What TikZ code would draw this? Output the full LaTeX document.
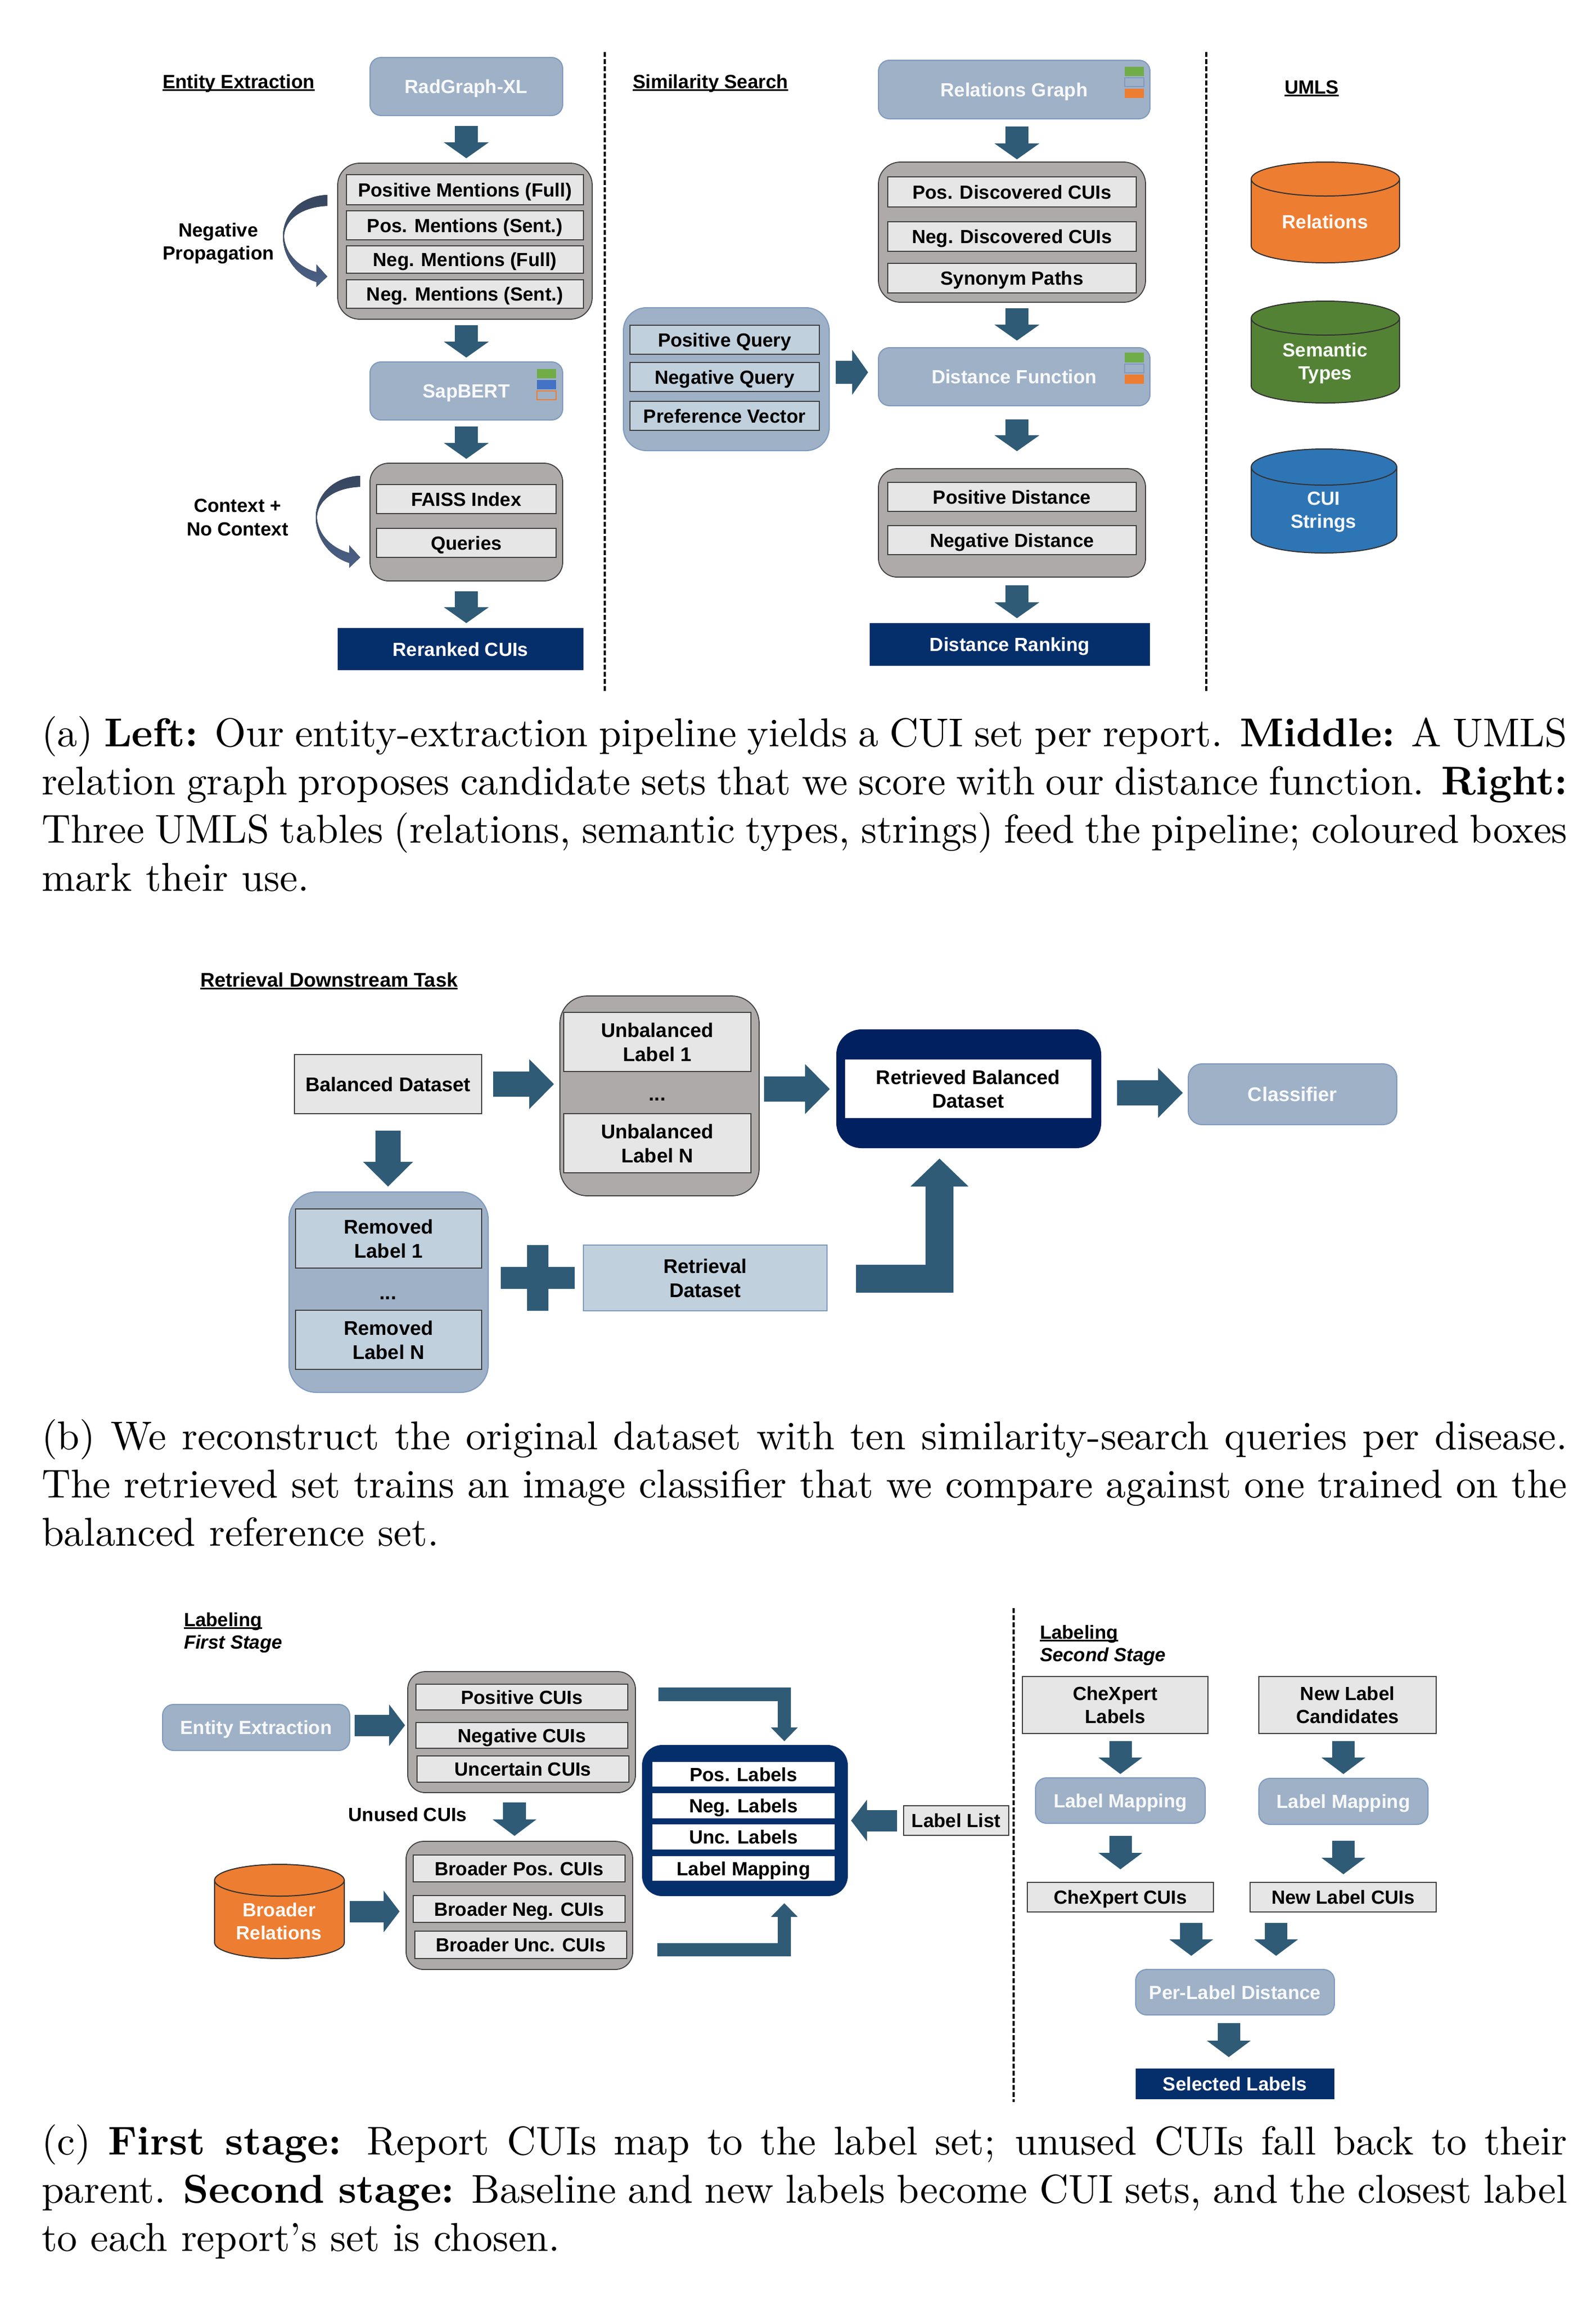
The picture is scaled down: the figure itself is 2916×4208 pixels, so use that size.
\documentclass[tikz,border=0pt]{standalone}
\usepackage{fontspec}
\usetikzlibrary{arrows.meta}
\newfontfamily\dia{Liberation Sans}
\definecolor{arrowc}{HTML}{2F5B77}
\definecolor{bluebox}{HTML}{9FB1C7}
\definecolor{blueedge}{HTML}{7F9ABE}
\definecolor{lightblue}{HTML}{C1D0DD}
\definecolor{graybox}{HTML}{AEAAAA}
\definecolor{rowfill}{HTML}{E7E6E6}
\definecolor{edgec}{HTML}{404040}
\definecolor{navy}{HTML}{052F6B}
\definecolor{navyb}{HTML}{00205F}
\definecolor{orangec}{HTML}{ED7D31}
\definecolor{greenc}{HTML}{548235}
\definecolor{bluec}{HTML}{2E75B6}
\definecolor{sqgreen}{HTML}{70AD47}
\definecolor{sqblue}{HTML}{4472C4}
\definecolor{swtop}{HTML}{37465E}
\definecolor{swbot}{HTML}{4A6085}
\tikzset{
  tx/.style={font=\dia\bfseries\fontsize{9.9}{11.95}\selectfont,inner sep=0pt,outer sep=0pt,align=center,text=black},
  txb/.style={font=\dia\bfseries\fontsize{10.3}{12.35}\selectfont},
  ttl/.style={tx,anchor=base west,font=\dia\bfseries\fontsize{9.95}{12}\selectfont},
  bluenode/.style={tx,rectangle,rounded corners=0.2cm,fill=bluebox,draw=blueedge,line width=0.02cm,text=white!92!bluebox},
  grp/.style={rectangle,rounded corners=0.4cm,fill=graybox,draw=edgec,line width=0.018cm,inner sep=0pt,outer sep=0pt},
  grpblue/.style={rectangle,rounded corners=0.42cm,fill=bluebox,draw=blueedge,line width=0.02cm,inner sep=0pt,outer sep=0pt},
  grpnavy/.style={rectangle,rounded corners=0.36cm,fill=navy,draw=navy,line width=0.02cm,inner sep=0pt,outer sep=0pt},
  row/.style={tx,rectangle,fill=rowfill,draw=edgec,line width=0.018cm},
  rowblue/.style={tx,rectangle,fill=lightblue,draw=edgec,line width=0.018cm},
  rowwhite/.style={tx,rectangle,fill=white,draw=none},
  solidnavy/.style={tx,rectangle,fill=navy,text=white},
  sqnode/.style={rectangle,inner sep=0pt,outer sep=0pt},
  sepline/.style={draw=black,line width=0.035cm,dash pattern=on 0.09cm off 0.04cm},
  barA/.style={draw=arrowc,line width=0.42cm,-{Triangle[length=0.29cm,width=0.82cm,line width=0pt]}},
  barB/.style={draw=arrowc,line width=0.46cm,-{Triangle[length=0.45cm,width=0.91cm,line width=0pt]}},
  barC/.style={draw=arrowc,line width=0.39cm,-{Triangle[length=0.29cm,width=0.76cm,line width=0pt]}},
  barD/.style={draw=arrowc,line width=0.41cm,-{Triangle[length=0.30cm,width=0.80cm,line width=0pt]}},
  barE/.style={draw=arrowc,line width=0.51cm,-{Triangle[length=0.51cm,width=1.06cm,line width=0pt]}},
  barF/.style={draw=arrowc,line width=0.245cm,-{Triangle[length=0.25cm,width=0.49cm,line width=0pt]}},
  capt/.style={anchor=north west,inner sep=0pt,outer sep=0pt,scale=2.09,text width=13.33cm,align=justify}
}
\newcommand\ul[1]{\setbox0=\hbox{#1}\rlap{\rule[-0.13em]{\wd0}{0.07em}}\box0}
% style, name, x1, y1, x2, y2, text
\newcommand\nbox[7]{\node[#1,minimum width={(#5-#3)*0.01cm},minimum height={(#6-#4)*0.01cm}] (#2) at ({(#3+#5)/2},{(#4+#6)/2}) {\vphantom{g}\rule{0pt}{0.95em}#7\vphantom{g}};}
\newcommand\sq[7]{\node[sqnode,#1,minimum width={(#5-#3)*0.01cm},minimum height={(#6-#4)*0.01cm}] (#2) at ({(#3+#5)/2},{(#4+#6)/2}) {};}
% style, name, start, end
\newcommand\blk[4]{\coordinate (#2s) at (#3); \coordinate (#2e) at (#4); \draw[#1] (#2s) -- (#2e);}
% name, x1, y1, x2, y2, ry, colour
\newcommand\cyl[7]{%
  \pgfmathsetmacro\cx{(#2+#4)/2}\pgfmathsetmacro\rx{(#4-#2)/2}%
  \pgfmathsetmacro\kx{0.5523*\rx}\pgfmathsetmacro\ky{0.5523*#6}%
  \pgfmathsetmacro\ta{#3+#6}\pgfmathsetmacro\ba{#5-#6}%
  \draw[fill=#7,draw=black!80,line width=0.02cm] (#2,\ta) -- (#2,\ba) .. controls (#2,\ba+\ky) and (\cx-\kx,#5) .. (\cx,#5) .. controls (\cx+\kx,#5) and (#4,\ba+\ky) .. (#4,\ba) -- (#4,\ta) -- cycle;
  \draw[fill=#7,draw=black!80,line width=0.02cm] (\cx,\ta) ellipse [x radius=\rx*0.01cm,y radius=#6*0.01cm];
}
\begin{document}
\begin{tikzpicture}[x=0.01cm,y=-0.01cm]
\useasboundingbox (0,0) rectangle (2916,4208);
\fill[white] (0,0) rectangle (2916,4208);

%% ---------- (a) left
\node[ttl] (ttlA) at (297,161) {\ul{Entity Extraction}};
\nbox{bluenode}{rad}{676}{105}{1028}{211}{RadGraph-XL}
\blk{barA}{a1}{852,230}{852,289}
\nbox{grp}{gA}{617}{298}{1082}{583}{}
\nbox{row}{rA1}{633}{319}{1066}{374}{Positive Mentions (Full)}
\nbox{row}{rA2}{633}{385}{1066}{438}{Pos. Mentions (Sent.)}
\nbox{row}{rA3}{633}{449}{1066}{499}{Neg. Mentions (Full)}
\nbox{row}{rA4}{633}{511}{1066}{563}{Neg. Mentions (Sent.)}
\blk{barA}{a2}{852,594}{852,653}
\nbox{bluenode}{sap}{676}{661}{1028}{767}{SapBERT}
\sq{fill=sqgreen}{sapG}{981}{674}{1016}{691}{}
\sq{fill=sqblue}{sapB}{981}{694}{1016}{711}{}
\sq{draw=orangec,line width=0.015cm}{sapO}{981}{714}{1016}{730}{}
\blk{barA}{a3}{852,779}{852,838}
\nbox{grp,rounded corners=0.34cm}{gF}{676}{846}{1028}{1061}{}
\nbox{row}{rF1}{688}{885}{1016}{938}{FAISS Index}
\nbox{row}{rF2}{688}{965}{1016}{1018}{Queries}
\blk{barA}{a4}{852,1080}{852,1138}
\nbox{solidnavy}{rer}{617}{1147}{1066}{1224}{Reranked CUIs}
\node[tx] (negp) at (399,445) {Negative\\Propagation};
\node[tx] (ctx) at (434,945) {Context +\\No Context};
\foreach \dx/\dy in {0/0,60/513}{
\begin{scope}[shift={(\dx,\dy)}]
\fill[top color=swtop,bottom color=swbot] (598,356) .. controls (548,358) and (517,392) .. (517,432) .. controls (517,468) and (540,503) .. (578,515) -- (578,524) -- (598,505) -- (578,483) -- (578,497) .. controls (548,489) and (521,465) .. (519,432) .. controls (520,400) and (552,378) .. (598,376) -- cycle;
\end{scope}}
\coordinate (d1s) at (1105,95); \coordinate (d1e) at (1105,1263);
\draw[sepline] (d1s) -- (d1e);

%% ---------- (a) middle
\node[ttl] (ttlS) at (1156,161) {\ul{Similarity Search}};
\nbox{bluenode}{relg}{1605}{110}{2101}{217}{Relations Graph}
\sq{fill=sqgreen}{relG}{2055}{122}{2090}{139}{}
\sq{draw=blueedge,line width=0.015cm,fill=bluebox}{relB}{2055}{142}{2090}{158}{}
\sq{fill=orangec}{relO}{2055}{162}{2090}{179}{}
\blk{barA}{m1}{1858,231}{1858,291}
\nbox{grp}{gD}{1605}{296}{2093}{552}{}
\nbox{row}{rD1}{1622}{323}{2076}{378}{Pos. Discovered CUIs}
\nbox{row}{rD2}{1622}{405}{2076}{459}{Neg. Discovered CUIs}
\nbox{row}{rD3}{1622}{481}{2076}{535}{Synonym Paths}
\blk{barA}{m2}{1858,563}{1858,622}
\nbox{bluenode}{dist}{1605}{635}{2101}{741}{Distance Function}
\sq{fill=sqgreen}{distG}{2055}{644}{2090}{662}{}
\sq{draw=blueedge,line width=0.015cm,fill=bluebox}{distB}{2055}{665}{2090}{681}{}
\sq{fill=orangec}{distO}{2055}{684}{2090}{701}{}
\blk{barA}{m3}{1858,766}{1858,824}
\nbox{grp,rounded corners=0.34cm}{gP}{1605}{856}{2093}{1054}{}
\nbox{row}{rP1}{1622}{881}{2076}{934}{Positive Distance}
\nbox{row}{rP2}{1622}{960}{2076}{1013}{Negative Distance}
\blk{barA}{m4}{1858,1069}{1858,1129}
\nbox{solidnavy}{rank}{1589}{1138}{2101}{1216}{Distance Ranking}
\nbox{grpblue}{gQ}{1139}{562}{1515}{823}{}
\nbox{rowblue}{rQ1}{1151}{594}{1497}{647}{Positive Query}
\nbox{rowblue}{rQ2}{1151}{662}{1497}{715}{Negative Query}
\nbox{rowblue}{rQ3}{1151}{733}{1497}{786}{Preference Vector}
\blk{barA}{m5}{1527,680}{1586,680}
\coordinate (d2s) at (2204,95); \coordinate (d2e) at (2204,1263);
\draw[sepline] (d2s) -- (d2e);

%% ---------- (a) right
\node[ttl] (ttlU) at (2347,171) {\ul{UMLS}};
\cyl{c1}{2286}{296}{2557}{480}{31}{orangec}
\node[tx,text=white!95!orangec] (c1t) at (2421,405) {Relations};
\cyl{c2}{2286}{550}{2557}{736}{31}{greenc}
\node[tx,text=white!95!greenc] (c2t) at (2421,663) {Semantic\\Types};
\cyl{c3}{2286}{820}{2552}{1010}{33}{bluec}
\node[tx,text=white!95!bluec] (c3t) at (2418,935) {CUI\\Strings};

%% ---------- caption a
\node[capt] (capA) at (76,1308) {(a) \textbf{Left:} Our entity-extraction pipeline yields a CUI set per report. \textbf{Middle:} A UMLS\linebreak relation graph proposes candidate sets that we score with our distance function. \textbf{Right:}\linebreak Three UMLS tables (relations, semantic types, strings) feed the pipeline; coloured boxes\linebreak mark their use.};

%% ---------- (b)
\node[ttl,font=\dia\bfseries\fontsize{10.3}{12}\selectfont] (ttlR) at (366,1802) {\ul{Retrieval Downstream Task}};
\nbox{row,txb,line width=0.02cm}{bal}{538}{1926}{880}{2034}{Balanced Dataset}
\blk{barB}{b1}{901,1980}{1012,1980}
\nbox{grp,rounded corners=0.5cm}{gU}{1023}{1819}{1387}{2184}{}
\nbox{row,txb,line width=0.02cm}{rU1}{1030}{1849}{1372}{1957}{Unbalanced\\Label 1}
\node[tx,txb] (dotsU) at (1201,2008) {...};
\nbox{row,txb,line width=0.02cm}{rU2}{1030}{2034}{1372}{2142}{Unbalanced\\Label N}
\blk{barB}{b2}{1396,1989}{1516,1989}
\nbox{grpnavy,fill=navyb,draw=navyb,rounded corners=0.45cm}{gT}{1529}{1881}{2011}{2096}{}
\nbox{rowwhite,txb}{rT}{1544}{1935}{1994}{2042}{Retrieved Balanced\\Dataset}
\blk{barB}{b3}{2041,1996}{2161,1996}
\nbox{bluenode,txb,rounded corners=0.25cm}{cls}{2171}{1943}{2552}{2054}{Classifier}
\blk{barB}{b4}{709,2065}{709,2167}
\nbox{grpblue,rounded corners=0.5cm}{gR}{528}{2177}{892}{2543}{}
\nbox{rowblue,txb,line width=0.02cm}{rR1}{540}{2208}{880}{2316}{Removed\\Label 1}
\node[tx,txb] (dotsR) at (709,2371) {...};
\nbox{rowblue,txb,line width=0.02cm}{rR2}{540}{2393}{880}{2501}{Removed\\Label N}
\fill[arrowc] (963,2274) rectangle (1002,2394);
\fill[arrowc] (915,2314) rectangle (1050,2354);
\nbox{rowblue,txb,draw=blueedge,line width=0.02cm}{rds}{1066}{2274}{1511}{2394}{Retrieval\\Dataset}
\coordinate (b5s) at (1564,2335.5); \coordinate (b5e) at (1716.5,2116);
\draw[barE] (b5s) -| (b5e);

%% ---------- caption b
\node[capt] (capB) at (76,2592) {(b) We reconstruct the original dataset with ten similarity-search queries per disease.\linebreak The retrieved set trains an image classifier that we compare against one trained on the\linebreak balanced reference set.};

%% ---------- (c) first stage
\node[ttl,font=\dia\bfseries\fontsize{9.9}{12}\selectfont] (ttlL) at (336,2970) {\ul{Labeling}};
\node[ttl,font=\dia\bfseries\itshape\fontsize{9.9}{12}\selectfont] (ttlF) at (336,3011) {First Stage};
\nbox{bluenode}{ent}{297}{3113}{639}{3197}{Entity Extraction}
\blk{barC}{c1a}{648,3151}{740,3151}
\nbox{grp,rounded corners=0.32cm}{gC}{745}{3053}{1161}{3274}{}
\nbox{row}{rC1}{760}{3076}{1147}{3123}{Positive CUIs}
\nbox{row}{rC2}{760}{3146}{1147}{3193}{Negative CUIs}
\nbox{row}{rC3}{762}{3207}{1149}{3255}{Uncertain CUIs}
\node[tx] (unused) at (745,3314) {Unused CUIs};
\blk{barD}{c2a}{940,3292}{940,3353}
\nbox{grp,rounded corners=0.32cm}{gB}{742}{3363}{1156}{3597}{}
\nbox{row}{rB1}{755}{3388}{1142}{3437}{Broader Pos. CUIs}
\nbox{row}{rB2}{755}{3462}{1142}{3511}{Broader Neg. CUIs}
\nbox{row}{rB3}{758}{3527}{1145}{3577}{Broader Unc. CUIs}
\cyl{c4}{392}{3405}{629}{3577}{29}{orangec}
\node[tx,text=white!95!orangec] (c4t) at (510,3509) {Broader\\Relations};
\blk{barC}{c3a}{639,3491}{730,3491}
\nbox{grpnavy,rounded corners=0.36cm}{gN}{1174}{3188}{1548}{3462}{}
\nbox{rowwhite}{rN1}{1192}{3218}{1525}{3263}{Pos. Labels}
\nbox{rowwhite}{rN2}{1192}{3275}{1525}{3321}{Neg. Labels}
\nbox{rowwhite}{rN3}{1192}{3332}{1525}{3378}{Unc. Labels}
\nbox{rowwhite}{rN4}{1192}{3390}{1525}{3435}{Label Mapping}
\nbox{row,line width=0.02cm}{lst}{1651}{3298}{1843}{3352}{Label List}
\blk{barC}{c4a}{1639,3325}{1555,3325}
\coordinate (c5s) at (1203,3094.5); \coordinate (c5e) at (1433,3180);
\draw[barF] (c5s) -| (c5e);
\coordinate (c6s) at (1201,3561); \coordinate (c6e) at (1433,3476);
\draw[barF] (c6s) -| (c6e);
\coordinate (d3s) at (1852,2937); \coordinate (d3e) at (1852,3839);
\draw[sepline] (d3s) -- (d3e);

%% ---------- (c) second stage
\node[ttl,font=\dia\bfseries\fontsize{9.9}{12}\selectfont] (ttlL2) at (1900,2993) {\ul{Labeling}};
\node[ttl,font=\dia\bfseries\itshape\fontsize{9.9}{12}\selectfont] (ttlS2) at (1900,3034) {Second Stage};
\nbox{row,line width=0.02cm}{chL}{1868}{3062}{2207}{3166}{CheXpert\\Labels}
\nbox{row,line width=0.02cm}{nwL}{2300}{3062}{2624}{3166}{New Label\\Candidates}
\blk{barD}{s1}{2047,3180}{2047,3240}
\blk{barD}{s2}{2454.5,3180}{2454.5,3240}
\nbox{bluenode}{mpL}{1892}{3247}{2202}{3330}{Label Mapping}
\nbox{bluenode}{mpR}{2300}{3248}{2609}{3332}{Label Mapping}
\blk{barD}{s3}{2047,3353}{2047,3414}
\blk{barD}{s4}{2454.5,3362}{2454.5,3423}
\nbox{row,line width=0.02cm}{chC}{1877}{3438}{2217}{3492}{CheXpert CUIs}
\nbox{row,line width=0.02cm}{nwC}{2284}{3438}{2624}{3492}{New Label CUIs}
\blk{barD}{s5}{2176.5,3512}{2176.5,3572}
\blk{barD}{s6}{2331.5,3512}{2331.5,3572}
\nbox{bluenode}{pld}{2075}{3597}{2438}{3680}{Per-Label Distance}
\blk{barD}{s7}{2245,3695}{2245,3757}
\nbox{solidnavy}{sel}{2075}{3778}{2438}{3834}{Selected Labels}

%% ---------- caption c
\node[capt] (capC) at (76,3880) {(c) \textbf{First stage:} Report CUIs map to the label set; unused CUIs fall back to their\linebreak parent. \textbf{Second stage:} Baseline and new labels become CUI sets, and the closest label\linebreak to each report’s set is chosen.};
\end{tikzpicture}
\end{document}
